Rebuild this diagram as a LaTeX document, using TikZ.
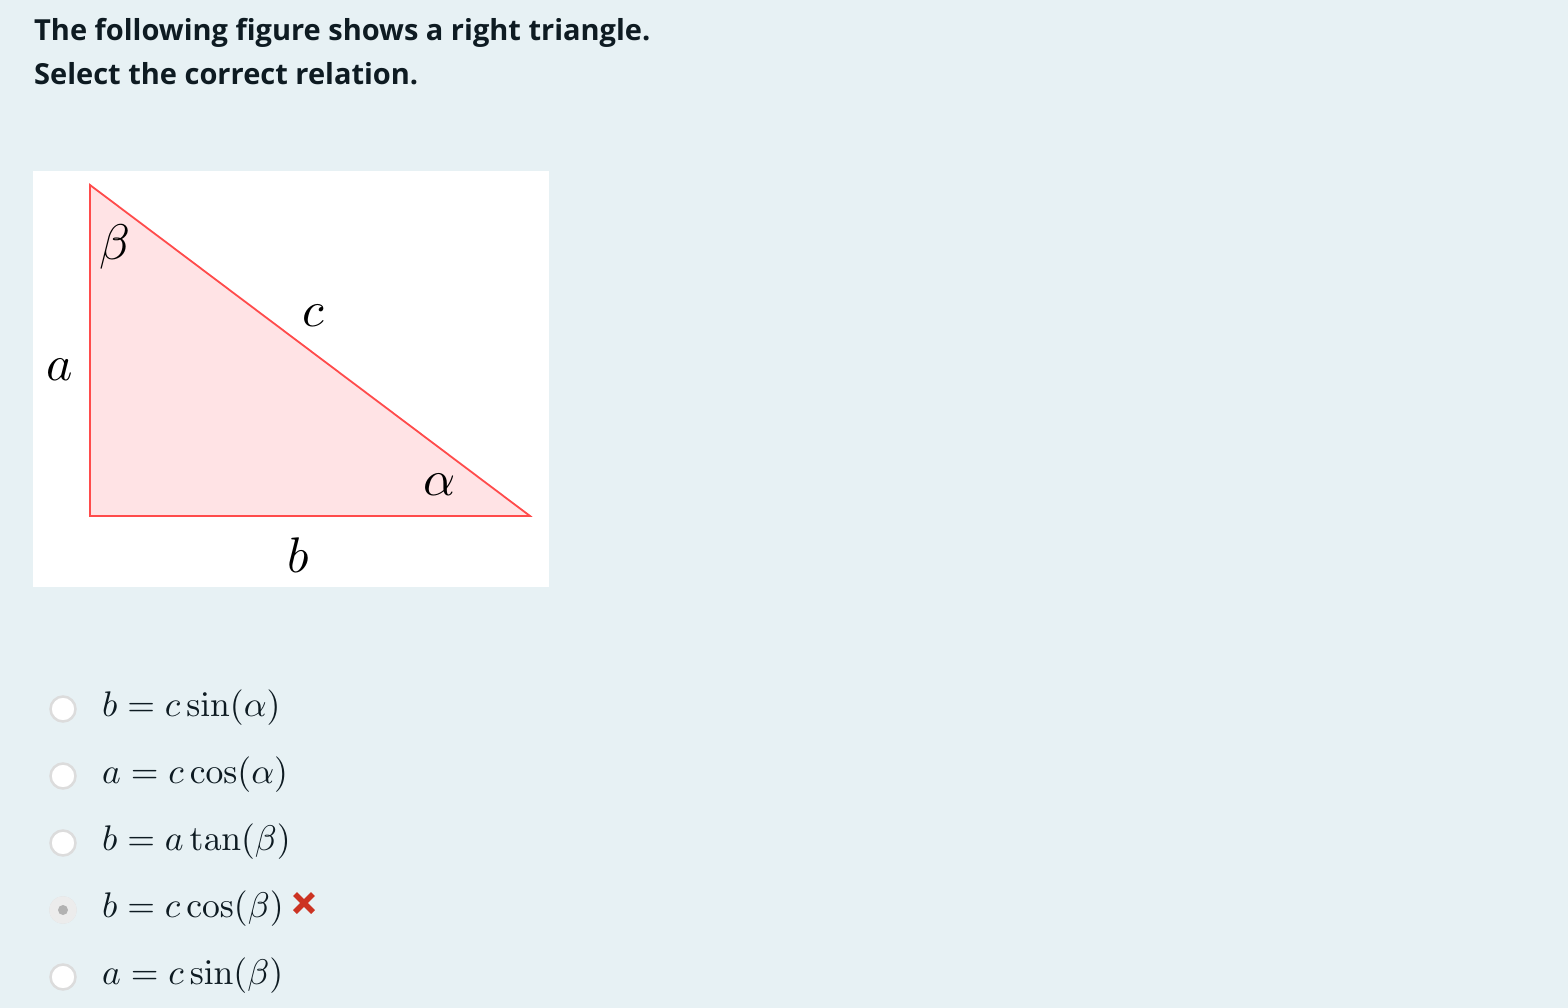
\documentclass[tikz,border=0pt]{standalone}
\usepackage[no-math]{fontspec}
\setmainfont{Open Sans}
\usepackage{amsmath,graphicx}
\usetikzlibrary{calc,positioning}
\definecolor{pagebg}{HTML}{E7F1F4}
\definecolor{inkcol}{HTML}{0E1B22}
\definecolor{triline}{HTML}{FF4B4B}
\definecolor{trifill}{HTML}{FFE3E5}
\definecolor{radioline}{HTML}{DCDCDC}
\definecolor{wrongred}{HTML}{CC3322}
\DeclareSymbolFont{operators}{OT1}{cmr}{m}{n}
\newcommand{\labelmath}[1]{\scalebox{5}{$#1$}}
\newcommand{\choicemath}[1]{\scalebox{3.56}{$#1$}}

\begin{document}
\begin{tikzpicture}[x=1pt,y=-1pt]

\tikzset{headline/.style={anchor=base west,inner sep=0pt,font=\fontsize{29}{32}\selectfont\bfseries,text=inkcol},
sidelabel/.style={inner sep=0pt,text=black},
radiobox/.style={circle,draw=radioline,line width=2.5pt,fill=white,minimum size=25pt,inner sep=0pt},
choice/.style={anchor=base west,inner sep=0pt,text=inkcol}}

% page
\fill[pagebg] (0,0) rectangle (1568,1008);
\useasboundingbox (0,0) rectangle (1568,1008);

% question
\node[headline] (q1) at (34,41) {The following figure shows a right triangle.};
\node[headline] (q2) at (34,85) {Select the correct relation.};

% figure
\fill[white] (33,171) rectangle (549,587);
\coordinate (B) at (90,185);
\coordinate (C) at (90,516);
\coordinate (A) at (530,516);
\filldraw[fill=trifill,draw=triline,line width=1.8pt,line join=miter] (B) -- (C) -- (A) -- cycle;

\node[sidelabel] (la) at (60,370) {\labelmath{a}};
\node[sidelabel] (lb) at (298,555) {\labelmath{b}};
\node[sidelabel] (lc) at (313,316) {\labelmath{c}};
\node[sidelabel] (lbeta) at (115,247) {\labelmath{\beta}};
\node[sidelabel] (lalpha) at (440,485) {\labelmath{\alpha}};

% answers
\foreach \i/\rel in {1/{b=c\sin(\alpha)},2/{a=c\cos(\alpha)},3/{b=a\tan(\beta)},4/{b=c\cos(\beta)},5/{a=c\sin(\beta)}}
{
  \node[radiobox] (r\i) at (63,{709+67*(\i-1)}) {};
  \node[choice] (o\i) at (102,{716+67*(\i-1)}) {\choicemath{\rel}};
}

% chosen answer
\node[radiobox,fill=radioline!55,draw=radioline!55] (r4) at (63,910) {};
\node[circle,fill=black!30,minimum size=10pt,inner sep=0pt] (dot4) at (r4) {};

% wrong mark
\coordinate (cross) at (304,903);
\draw[wrongred,line width=5.5pt] ($(cross)+(-9,-9)$) -- ($(cross)+(9,9)$);
\draw[wrongred,line width=5.5pt] ($(cross)+(-9,9)$) -- ($(cross)+(9,-9)$);

\end{tikzpicture}
\end{document}
